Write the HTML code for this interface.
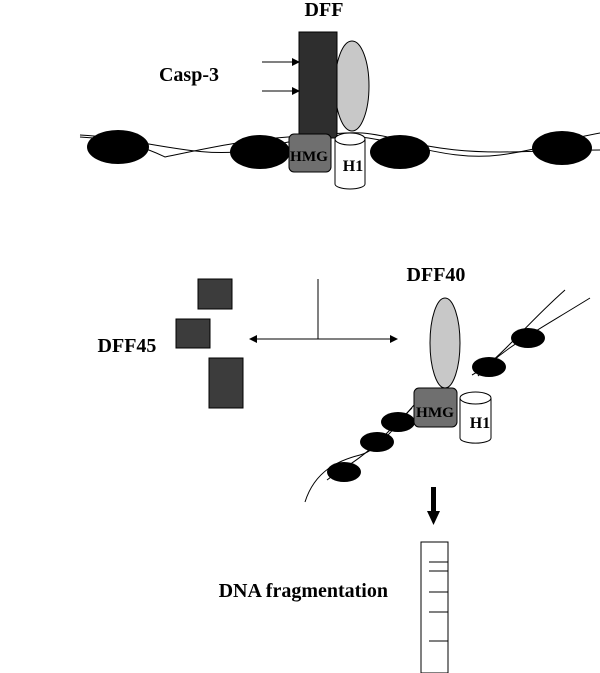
<!DOCTYPE html>
<html><head><style>html,body{margin:0;padding:0;background:#fff}svg{display:block}</style></head><body>
<svg width="600" height="673" viewBox="0 0 600 673" xmlns="http://www.w3.org/2000/svg" font-family="Liberation Serif, serif" font-weight="bold">
<defs>
<marker id="ah" markerWidth="8" markerHeight="8" refX="7" refY="4" orient="auto" markerUnits="userSpaceOnUse"><path d="M0,0 L8,4 L0,8 Z" fill="#000"/></marker>
</defs>
<g fill="none" stroke="#000" stroke-width="1">
<path d="M80,135 C140,138 200,160 250,150 S330,130 380,140 S460,160 500,155 S560,140 600,133"/>
<path d="M80,137 C130,140 150,150 165,157 C200,150 240,140 300,136 S360,130 400,140 S470,152 500,152 S560,150 600,150"/>
</g>
<ellipse cx="118" cy="147" rx="31" ry="17" fill="#000"/>
<ellipse cx="260" cy="152" rx="30" ry="17" fill="#000"/>
<ellipse cx="400" cy="152" rx="30" ry="17" fill="#000"/>
<ellipse cx="562" cy="148" rx="30" ry="17" fill="#000"/>
<ellipse cx="352" cy="86" rx="17" ry="45" fill="#c8c8c8" stroke="#000"/>
<rect x="299" y="32" width="38" height="106" fill="#2e2e2e" stroke="#000"/>
<rect x="289" y="134" width="42" height="38" rx="5" fill="#6f6f6f" stroke="#000"/>
<text x="309" y="161" font-size="15" text-anchor="middle" textLength="38" lengthAdjust="spacingAndGlyphs">HMG</text>
<path d="M335,139 L335,184 A15,5 0 0 0 365,184 L365,139" fill="#fff" stroke="#000"/>
<ellipse cx="350" cy="139" rx="15" ry="6" fill="#fff" stroke="#000"/>
<text x="353" y="171" font-size="16" text-anchor="middle">H1</text>
<line x1="262" y1="62" x2="299" y2="62" stroke="#000" marker-end="url(#ah)"/>
<line x1="262" y1="91" x2="299" y2="91" stroke="#000" marker-end="url(#ah)"/>
<text x="324" y="16" font-size="20" text-anchor="middle">DFF</text>
<text x="189" y="81" font-size="20" text-anchor="middle">Casp-3</text>
<rect x="198" y="279" width="34" height="30" fill="#3c3c3c" stroke="#000"/>
<rect x="176" y="319" width="34" height="29" fill="#3c3c3c" stroke="#000"/>
<rect x="209" y="358" width="34" height="50" fill="#3c3c3c" stroke="#000"/>
<text x="127" y="352" font-size="20" text-anchor="middle">DFF45</text>
<line x1="318" y1="279" x2="318" y2="339" stroke="#000"/>
<line x1="318" y1="339" x2="250" y2="339" stroke="#000" marker-end="url(#ah)"/>
<line x1="318" y1="339" x2="397" y2="339" stroke="#000" marker-end="url(#ah)"/>
<text x="436" y="281" font-size="20" text-anchor="middle">DFF40</text>
<g fill="none" stroke="#000" stroke-width="1">
<path d="M305,502 C315,470 340,460 360,455 S400,420 415,404 M472,375 C500,360 520,330 565,290"/>
<path d="M327,480 C340,470 360,460 380,440 S405,415 412,408 M478,376 C500,350 530,335 590,298"/>
</g>
<ellipse cx="344" cy="472" rx="17" ry="10" fill="#000"/>
<ellipse cx="377" cy="442" rx="17" ry="10" fill="#000"/>
<ellipse cx="398" cy="422" rx="17" ry="10" fill="#000"/>
<ellipse cx="489" cy="367" rx="17" ry="10" fill="#000"/>
<ellipse cx="528" cy="338" rx="17" ry="10" fill="#000"/>
<ellipse cx="445" cy="343" rx="15" ry="45" fill="#c8c8c8" stroke="#000"/>
<rect x="414" y="388" width="43" height="39" rx="5" fill="#6f6f6f" stroke="#000"/>
<text x="435" y="417" font-size="15" text-anchor="middle" textLength="38" lengthAdjust="spacingAndGlyphs">HMG</text>
<path d="M460,398 L460,438 A15,5 0 0 0 491,438 L491,398" fill="#fff" stroke="#000"/>
<ellipse cx="475.5" cy="398" rx="15.5" ry="6" fill="#fff" stroke="#000"/>
<text x="480" y="428" font-size="16" text-anchor="middle">H1</text>
<rect x="431" y="487" width="5" height="25" fill="#000"/>
<path d="M427,511 L440,511 L433.5,525 Z" fill="#000"/>
<rect x="421" y="542" width="27" height="131" fill="#fff" stroke="#000"/>
<g stroke="#000"><line x1="429" y1="562" x2="448" y2="562"/><line x1="429" y1="571" x2="448" y2="571"/><line x1="429" y1="592" x2="448" y2="592"/><line x1="429" y1="612" x2="448" y2="612"/><line x1="429" y1="641" x2="448" y2="641"/></g>
<text x="388" y="597" font-size="20" text-anchor="end">DNA fragmentation</text>
</svg>
</body></html>
